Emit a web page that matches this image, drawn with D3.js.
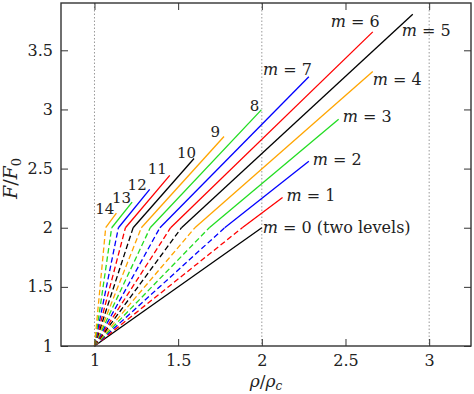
<!DOCTYPE html>
<html>
<head>
<meta charset="utf-8">
<script src="https://cdn.jsdelivr.net/npm/d3@7"></script>
<style>
    body { margin: 0; background: #fff; }
    text { font-family: "DejaVu Serif", "Liberation Serif", serif; fill: #222; }
</style>
</head>
<body>
<svg id="chart" width="474" height="394"></svg>
<script>
// one entry per m (0..14)
let levels = [0, 1, 2, 3, 4, 5, 6, 7, 8, 9, 10, 11, 12, 13, 14]
let kinkX = [1.000, 1.883, 1.778, 1.686, 1.600, 1.520, 1.455, 1.391, 1.333, 1.280, 1.231, 1.185, 1.143, 1.103, 1.067]
let kinkF = [1.000, 2.000, 2.000, 2.000, 2.000, 2.000, 2.000, 2.000, 2.000, 2.000, 2.000, 2.000, 2.000, 2.000, 2.000]
let endX = [2.000, 2.124, 2.281, 2.459, 2.663, 2.902, 2.663, 2.281, 1.997, 1.774, 1.595, 1.450, 1.330, 1.225, 1.131]
let endF = [2.000, 2.256, 2.562, 2.917, 3.321, 3.805, 3.656, 3.277, 2.996, 2.771, 2.585, 2.442, 2.324, 2.217, 2.124]
let lineLabels = ['m = 0 (two levels)', 'm = 1', 'm = 2', 'm = 3', 'm = 4', 'm = 5', 'm = 6', 'm = 7',
    '8', '9', '10', '11', '12', '13', '14']

let xTicks = [1, 1.5, 2, 2.5, 3]
let yTicks = [1, 1.5, 2, 2.5, 3, 3.5]
let gridX = [1, 2, 3]

let colors = ['black', 'red', 'blue', '#22dd22', 'orange']

// label placement, pixel offsets from the line end: [dx, dy, anchor]
let labelPlace = [
    [1, 5, 'start'], [4, 4, 'start'], [4, 4, 'start'], [4, 3, 'start'], [0, 14, 'start'], [-11, 22, 'start'],
    [7, -5, 'end'], [3, -2, 'end'], [-2, 1, 'end'], [-4, 0, 'end'], [2, -1, 'end'], [-3, -1, 'end'],
    [-3, 1, 'end'], [-1, 1, 'end'], [-2, 1, 'end']
]

let svg = d3.select('#chart')
let pLeft = 61, pRight = 471, pTop = 3, pBottom = 346

let x = d3.scaleLinear().domain([0.8, 3.25]).range([pLeft, pRight])
let y = d3.scaleLinear().domain([1, 3.9]).range([pBottom, pTop])

// dotted vertical guides
svg.append('g').selectAll('line').data(gridX).join('line')
    .attr('x1', d => x(d)).attr('x2', d => x(d))
    .attr('y1', pTop).attr('y2', pBottom)
    .attr('stroke', '#999').attr('stroke-width', 1)
    .attr('stroke-dasharray', '1.5,2')

// curves
let lines = svg.append('g')
levels.forEach(m => {
    let c = colors[m % 5]
    if (kinkF[m] > 1) {
        lines.append('line')
            .attr('x1', x(1)).attr('y1', y(1))
            .attr('x2', x(kinkX[m])).attr('y2', y(kinkF[m]))
            .attr('stroke', c).attr('stroke-width', 1.3)
            .attr('stroke-dasharray', '5.5,3')
    }
    lines.append('line')
        .attr('x1', x(kinkX[m])).attr('y1', y(kinkF[m]))
        .attr('x2', x(endX[m])).attr('y2', y(endF[m]))
        .attr('stroke', c).attr('stroke-width', 1.3)
})

// labels on the lines
levels.forEach(m => {
    let p = labelPlace[m]
    let s = lineLabels[m]
    let t = svg.append('text')
        .attr('x', x(endX[m]) + p[0])
        .attr('y', y(endF[m]) + p[1])
        .attr('text-anchor', p[2])
        .style('font-size', s.startsWith('m') ? '16px' : '15px')
    if (s.startsWith('m')) {
        t.append('tspan').style('font-style', 'italic').text('m')
        t.append('tspan').attr('xml:space', 'preserve').text(s.slice(1))
    } else {
        t.text(s)
    }
})

// axes: inward ticks on all four sides
let xAxis = d3.axisBottom(x).tickValues(xTicks).tickSizeInner(-7).tickSizeOuter(0).tickPadding(9)
    .tickFormat(d => String(d))
let yAxis = d3.axisLeft(y).tickValues(yTicks).tickSizeInner(-7).tickSizeOuter(0).tickPadding(8)
    .tickFormat(d => String(d))

svg.append('g').attr('transform', `translate(0,${pBottom})`).call(xAxis)
svg.append('g').attr('transform', `translate(${pLeft},0)`).call(yAxis)
svg.append('g').attr('transform', `translate(0,${pTop})`)
    .call(d3.axisTop(x).tickValues(xTicks).tickSizeInner(-7).tickSizeOuter(0).tickFormat(''))
svg.append('g').attr('transform', `translate(${pRight},0)`)
    .call(d3.axisRight(y).tickValues(yTicks).tickSizeInner(-7).tickSizeOuter(0).tickFormat(''))

svg.selectAll('.domain').remove()
svg.selectAll('.tick line').attr('stroke', '#333').attr('stroke-width', 1)
svg.selectAll('.tick text').style('font-size', '16px').style('font-family', '"DejaVu Serif", serif').attr('fill', '#222')

svg.append('rect')
    .attr('x', pLeft).attr('y', pTop)
    .attr('width', pRight - pLeft).attr('height', pBottom - pTop)
    .attr('fill', 'none').attr('stroke', '#333').attr('stroke-width', 1.4)

// axis titles
let xt = svg.append('text')
    .attr('x', (pLeft + pRight) / 2).attr('y', 387)
    .attr('text-anchor', 'middle').style('font-size', '17px')
xt.append('tspan').style('font-style', 'italic').text('ρ')
xt.append('tspan').text('/')
xt.append('tspan').style('font-style', 'italic').text('ρ')
xt.append('tspan').attr('dy', 3).style('font-size', '12px').style('font-style', 'italic').text('c')

let yt = svg.append('text')
    .attr('transform', `translate(17,${(pTop + pBottom) / 2 + 4}) rotate(-90)`)
    .attr('text-anchor', 'middle').style('font-size', '19px')
yt.append('tspan').style('font-style', 'italic').text('F')
yt.append('tspan').text('/')
yt.append('tspan').style('font-style', 'italic').text('F')
yt.append('tspan').attr('dy', 4).style('font-size', '13px').text('0')
</script>
</body>
</html>
